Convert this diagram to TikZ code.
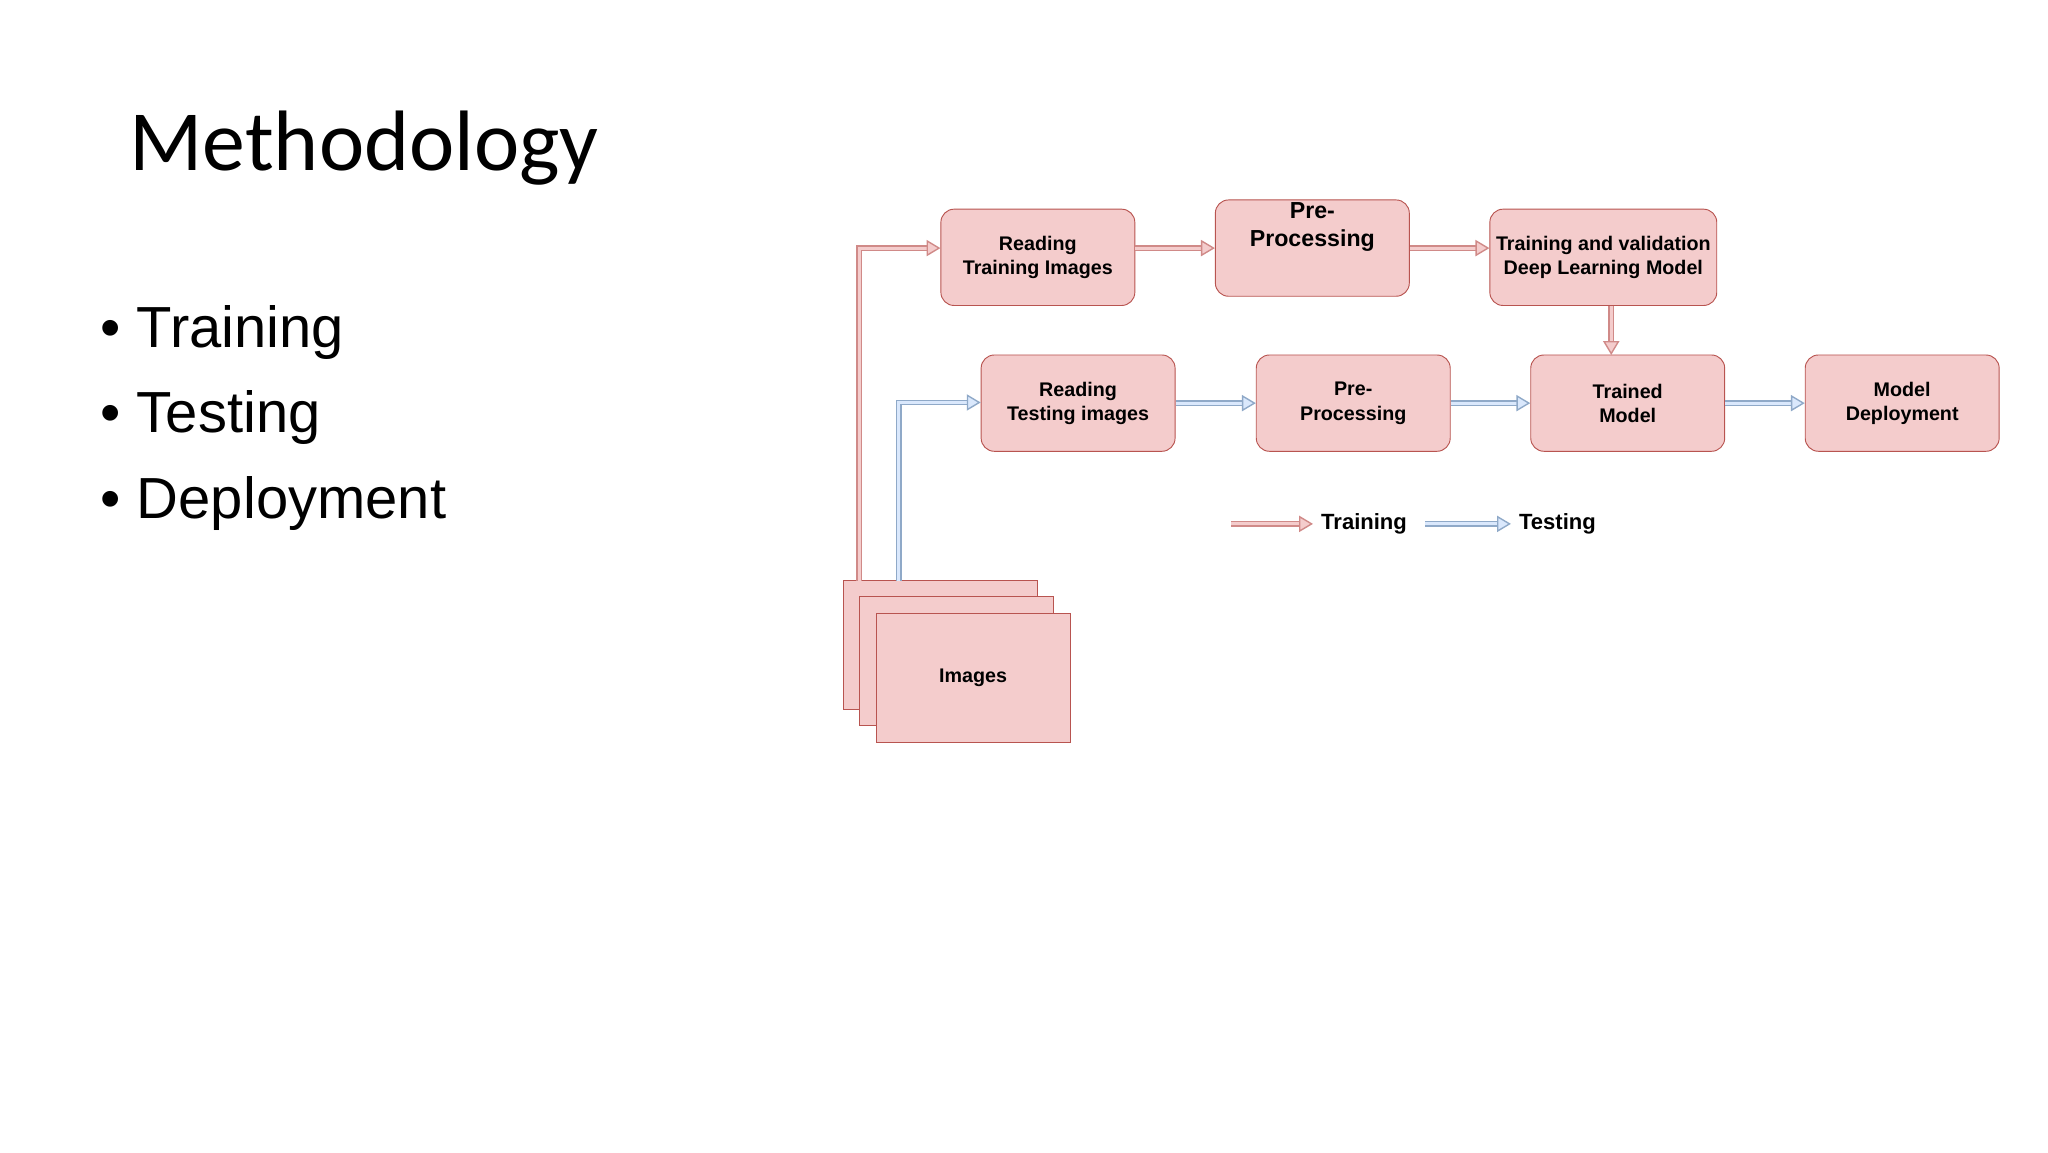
\documentclass[tikz,border=0pt]{standalone}
\usepackage{fontspec}
\setmainfont{Liberation Sans}
\newfontfamily\titlefont{Carlito}
\usetikzlibrary{arrows.meta}
\definecolor{bfill}{HTML}{F4CCCC}
\definecolor{bdraw}{HTML}{B85450}
\definecolor{tline}{HTML}{D08A88}
\definecolor{tin}{HTML}{F4CCCC}
\definecolor{sline}{HTML}{8FA9C8}
\definecolor{sin}{HTML}{DAE8FC}
\begin{document}
\begin{tikzpicture}[x=0.02cm,y=-0.02cm,
  box/.style={draw=bdraw,fill=bfill,rounded corners=0.2cm,minimum width=2.94cm,minimum height=1.46cm,align=center,font=\fontsize{8.5}{10.5}\selectfont\bfseries,inner sep=1pt},
  sheet/.style={draw=bdraw,fill=bfill,minimum width=2.94cm,minimum height=1.96cm,font=\fontsize{8.5}{10.5}\selectfont\bfseries},
  trarr/.style={draw=tline,double=tin,double distance=1.3pt,line width=0.6pt,-{Triangle[open,length=6pt,width=7pt,fill=tin]}},
  tsarr/.style={draw=sline,double=sin,double distance=1.3pt,line width=0.6pt,-{Triangle[open,length=6pt,width=7pt,fill=sin]}}]
\useasboundingbox (0,0) rectangle (1552,873);
\node[anchor=west,font=\titlefont\fontsize{37}{44}\selectfont] (title) at (92,112) {Methodology};
\node[anchor=north west,align=left,font=\fontsize{25}{37}\selectfont] (bul) at (70,225) {\textbullet\ Training\\ \textbullet\ Testing\\ \textbullet\ Deployment};
\node[box] (rti) at (786.5,195) {Reading\\Training Images};
\node[box,font=\fontsize{10}{12}\selectfont\bfseries] (pp1) at (994.5,188) {Pre-\\Processing\\[0.3cm]};
\node[box,minimum width=3.44cm] (tv) at (1215,195) {Training and validation\\Deep Learning Model};
\node[box] (rte) at (817,305.5) {Reading\\Testing images};
\node[box] (pp2) at (1025.5,305.5) {Pre-\\Processing};
\node[box] (tm) at (1233.5,305.5) {Trained\\Model};
\node[box] (md) at (1441.5,305.5) {Model\\Deployment};
\node[sheet] (s1) at (713,489) {};
\node[sheet] (s2) at (725,501) {};
\node[sheet] (img) at (737.5,514) {Images};
\coordinate (c1) at (651,188);
\coordinate (c2) at (681,305);
\draw[trarr] (651,440) -- (c1) -- (rti.west|-c1);
\draw[tsarr] (681,440) -- (c2) -- (rte.west|-c2);
\draw[trarr] (rti.east|-c1) -- (pp1.west|-c1);
\draw[trarr] (pp1.east|-c1) -- (tv.west|-c1);
\draw[trarr] (1221,232) -- (1221,269);
\draw[tsarr] (rte.east) -- (pp2.west);
\draw[tsarr] (pp2.east) -- (tm.west);
\draw[tsarr] (tm.east) -- (md.west);
\coordinate (l1) at (933,397);
\coordinate (l2) at (1080,397);
\node[anchor=west,font=\fontsize{9.5}{11}\selectfont\bfseries] (lt) at (995,397) {Training};
\node[anchor=west,font=\fontsize{9.5}{11}\selectfont\bfseries] (ls) at (1145,397) {Testing};
\draw[trarr] (l1) -- (lt.west);
\draw[tsarr] (l2) -- (ls.west);
\end{tikzpicture}
\end{document}
